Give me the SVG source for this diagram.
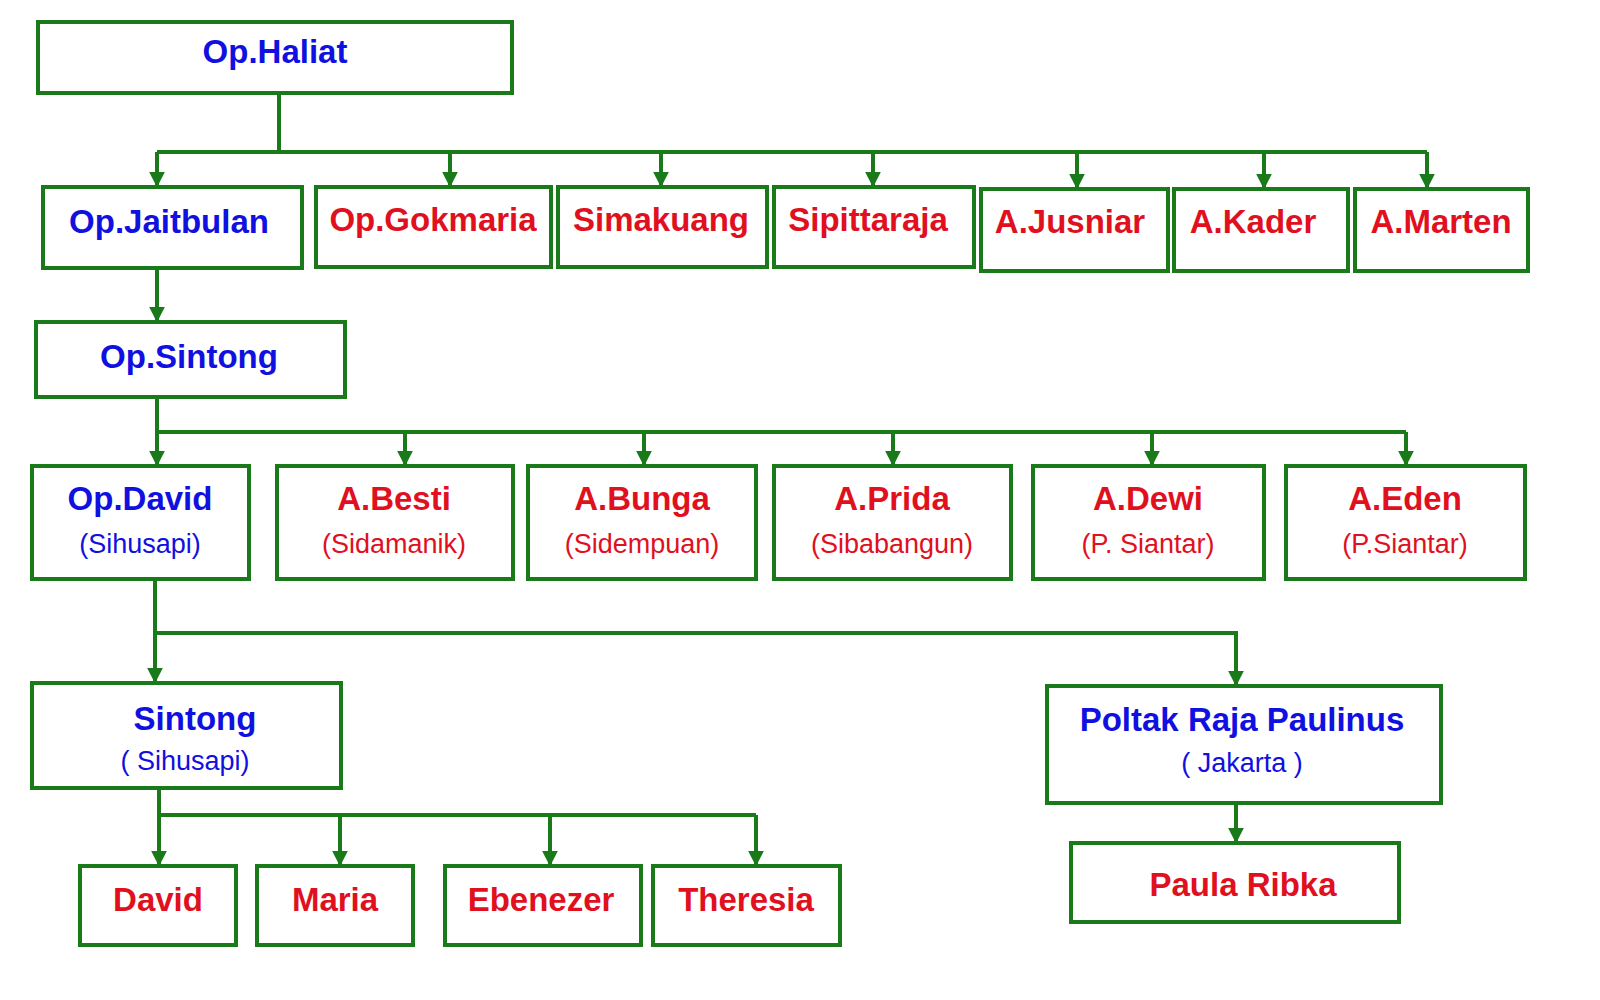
<svg xmlns="http://www.w3.org/2000/svg" width="1600" height="1000" viewBox="0 0 1600 1000">
<style>
.b{fill:#fff;stroke:#1a7a1a;stroke-width:4}
.c path{fill:none;stroke:#1a7a1a;stroke-width:4}
.c .m{marker-end:url(#a)}
text{font-family:"Liberation Sans",Arial,sans-serif;text-anchor:middle}
.t{font-weight:bold;font-size:33px}
.s{font-size:27px}
.bl{fill:#1010e0}.rd{fill:#e0101e}
</style>
<defs><marker id="a" viewBox="0 0 10 10" refX="9" refY="5" markerWidth="4" markerHeight="4" orient="auto"><path d="M0,0L10,5L0,10z" fill="#1a7a1a"/></marker></defs>
<rect width="1600" height="1000" fill="#fff"/>
<g id="connectors" class="c">
<path d="M279,93V152M157,152H1427"/>
<path class="m" d="M157,152V186"/><path class="m" d="M450,152V186"/><path class="m" d="M661,152V186"/><path class="m" d="M873,152V186"/><path class="m" d="M1077,152V188"/><path class="m" d="M1264,152V188"/><path class="m" d="M1427,152V188"/>
<path class="m" d="M157,268V321"/>
<path class="m" d="M157,397V465"/>
<path d="M157,432H1406"/>
<path class="m" d="M405,432V465"/><path class="m" d="M644,432V465"/><path class="m" d="M893,432V465"/><path class="m" d="M1152,432V465"/><path class="m" d="M1406,432V465"/>
<path class="m" d="M155,579V682"/>
<path class="m" d="M155,633H1236V685"/>
<path class="m" d="M1236,803V842"/>
<path d="M159,788V815H756"/>
<path class="m" d="M159,815V865"/><path class="m" d="M340,815V865"/><path class="m" d="M550,815V865"/><path class="m" d="M756,815V865"/>
</g>
<g id="n1"><rect class="b" x="38" y="22" width="474" height="71"/><text class="t bl" x="275" y="63">Op.Haliat</text></g>
<g id="n2"><rect class="b" x="43" y="187" width="259" height="81"/><text class="t bl" x="169" y="233">Op.Jaitbulan</text></g>
<g id="n3"><rect class="b" x="316" y="187" width="235" height="80"/><text class="t rd" x="433" y="231">Op.Gokmaria</text></g>
<g id="n4"><rect class="b" x="558" y="187" width="209" height="80"/><text class="t rd" x="661" y="231">Simakuang</text></g>
<g id="n5"><rect class="b" x="774" y="187" width="200" height="80"/><text class="t rd" x="868" y="231">Sipittaraja</text></g>
<g id="n6"><rect class="b" x="981" y="189" width="187" height="82"/><text class="t rd" x="1070" y="233">A.Jusniar</text></g>
<g id="n7"><rect class="b" x="1174" y="189" width="174" height="82"/><text class="t rd" x="1253" y="233">A.Kader</text></g>
<g id="n8"><rect class="b" x="1355" y="189" width="173" height="82"/><text class="t rd" x="1441" y="233">A.Marten</text></g>
<g id="n9"><rect class="b" x="36" y="322" width="309" height="75"/><text class="t bl" x="189" y="368">Op.Sintong</text></g>
<g id="n10"><rect class="b" x="32" y="466" width="217" height="113"/><text class="t bl" x="140" y="510">Op.David</text><text class="s bl" x="140" y="553">(Sihusapi)</text></g>
<g id="n11"><rect class="b" x="277" y="466" width="236" height="113"/><text class="t rd" x="394" y="510">A.Besti</text><text class="s rd" x="394" y="553">(Sidamanik)</text></g>
<g id="n12"><rect class="b" x="528" y="466" width="228" height="113"/><text class="t rd" x="642" y="510">A.Bunga</text><text class="s rd" x="642" y="553">(Sidempuan)</text></g>
<g id="n13"><rect class="b" x="774" y="466" width="237" height="113"/><text class="t rd" x="892" y="510">A.Prida</text><text class="s rd" x="892" y="553">(Sibabangun)</text></g>
<g id="n14"><rect class="b" x="1033" y="466" width="231" height="113"/><text class="t rd" x="1148" y="510">A.Dewi</text><text class="s rd" x="1148" y="553">(P. Siantar)</text></g>
<g id="n15"><rect class="b" x="1286" y="466" width="239" height="113"/><text class="t rd" x="1405" y="510">A.Eden</text><text class="s rd" x="1405" y="553">(P.Siantar)</text></g>
<g id="n16"><rect class="b" x="32" y="683" width="309" height="105"/><text class="t bl" x="195" y="730">Sintong</text><text class="s bl" x="185" y="770">( Sihusapi)</text></g>
<g id="n17"><rect class="b" x="1047" y="686" width="394" height="117"/><text class="t bl" x="1242" y="731">Poltak Raja Paulinus</text><text class="s bl" x="1242" y="772">( Jakarta )</text></g>
<g id="n18"><rect class="b" x="1071" y="843" width="328" height="79"/><text class="t rd" x="1243" y="896">Paula Ribka</text></g>
<g id="n19"><rect class="b" x="80" y="866" width="156" height="79"/><text class="t rd" x="158" y="911">David</text></g>
<g id="n20"><rect class="b" x="257" y="866" width="156" height="79"/><text class="t rd" x="335" y="911">Maria</text></g>
<g id="n21"><rect class="b" x="445" y="866" width="196" height="79"/><text class="t rd" x="541" y="911">Ebenezer</text></g>
<g id="n22"><rect class="b" x="653" y="866" width="187" height="79"/><text class="t rd" x="746" y="911">Theresia</text></g>
</svg>
